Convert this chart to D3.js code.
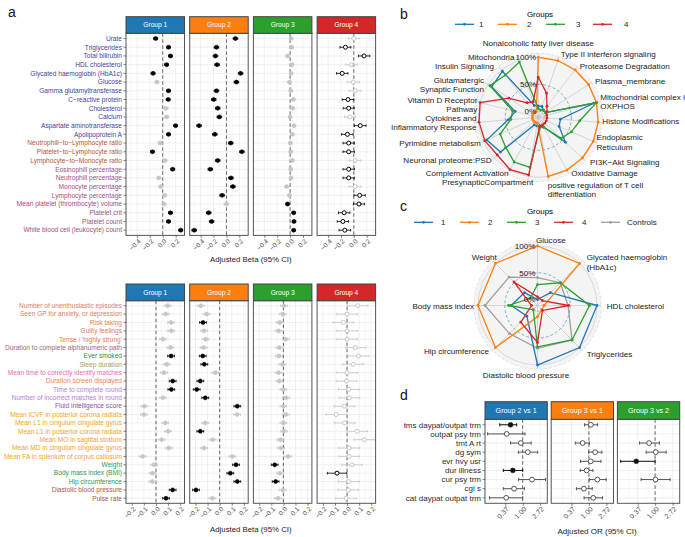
<!DOCTYPE html>
<html><head><meta charset="utf-8">
<script src="https://cdn.jsdelivr.net/npm/d3@7"></script>
<style>body{margin:0;background:#fff}svg text{font-family:'Liberation Sans',Arial,Helvetica,sans-serif}</style>
</head><body><svg id="chart" width="685" height="537"></svg>
<script>
// ---------------- DATA ----------------
const groupNames = ["Group 1","Group 2","Group 3","Group 4"];
const groupColors = ["#1F77B4","#FF7F0E","#2CA02C","#D62728"];

// Panel a (top): blood markers
const bloodRows = ["Urate","Triglycerides","Total bilirubin","HDL cholesterol","Glycated haemoglobin (HbA1c)","Glucose","Gamma glutamyltransferase","C\u2212reactive protein","Cholesterol","Calcium","Aspartate aminotransferase","Apolipoprotein A","Neutrophill\u2212to\u2212Lymphocyte ratio","Platelet\u2212to\u2212Lymphocyte ratio","Lymphocyte\u2212to\u2212Monocyte ratio","Eosinophill percentage","Neutrophill percentage","Monocyte percentage","Lymphocyte percentage","Mean platelet (thrombocyte) volume","Platelet crit","Platelet count","White blood cell (leukocyte) count"];
const bloodCategory = ["Biochemistry","Biochemistry","Biochemistry","Biochemistry","Biochemistry","Biochemistry","Biochemistry","Biochemistry","Biochemistry","Biochemistry","Biochemistry","Biochemistry","Ratios","Ratios","Ratios","Counts","Counts","Counts","Counts","Counts","Counts","Counts","Counts"];
const bloodEstG1 = [-0.11,0.09,0.12,0.06,-0.15,-0.09,0.09,0.085,0.05,0.06,0.2,0.09,-0.04,-0.16,0.035,0.155,-0.06,-0.03,0.03,0.02,0.12,0.09,0.28];
const bloodSigG1 = [1,1,1,1,1,0,1,1,0,0,1,1,0,1,0,1,0,0,0,0,1,1,1];
const bloodCiG1  = [0.03,0.03,0.03,0.03,0.03,0.03,0.03,0.03,0.03,0.03,0.03,0.03,0.03,0.03,0.03,0.03,0.03,0.03,0.03,0.03,0.03,0.03,0.03];
const bloodEstG2 = [0.14,-0.155,-0.17,-0.145,0.22,0.155,-0.155,-0.197,-0.135,-0.11,-0.425,-0.18,0.067,0.24,-0.135,-0.25,0.07,0.1,-0.067,0.0,-0.275,-0.23,-0.5];
const bloodSigG2 = [1,1,1,1,1,1,1,1,1,1,1,1,1,1,1,1,1,1,1,0,1,1,1];
const bloodCiG2  = [0.035,0.035,0.035,0.035,0.035,0.035,0.035,0.035,0.035,0.035,0.035,0.035,0.035,0.035,0.035,0.035,0.035,0.035,0.035,0.035,0.035,0.035,0.035];
const bloodEstG3 = [0.015,0.025,-0.04,0.03,0.015,-0.01,0.01,0.05,0.04,0.0,0.06,0.035,0.005,0.01,0.035,0.01,0.015,-0.055,-0.01,-0.04,0.055,0.06,0.055];
const bloodSigG3 = [0,0,0,0,0,0,0,0,0,0,0,0,0,0,0,0,0,0,0,1,1,1,1];
const bloodCiG3  = [0.025,0.025,0.025,0.025,0.025,0.025,0.025,0.025,0.025,0.025,0.025,0.025,0.025,0.025,0.025,0.025,0.025,0.025,0.025,0.025,0.025,0.025,0.025];
const bloodEstG4 = [0.0,-0.13,0.16,-0.04,-0.18,-0.01,0.02,-0.09,-0.08,-0.06,0.1,-0.1,-0.08,-0.08,0.02,-0.08,-0.08,0.02,0.09,0.08,-0.15,-0.17,-0.14];
const bloodSigG4 = [0,1,1,0,1,0,0,1,1,0,1,1,1,1,0,1,1,0,1,1,1,1,1];
const bloodCiG4  = [0.083,0.085,0.088,0.09,0.088,0.095,0.09,0.09,0.085,0.085,0.09,0.09,0.088,0.088,0.09,0.088,0.088,0.09,0.088,0.086,0.088,0.088,0.09];
const bloodTicks = [-0.4,-0.2,0.0,0.2];

// Panel a (bottom): psychological / cognitive / imaging / physical
const psyRows = ["Number of unenthusiastic episodes","Seen GP for anxiety, or depression","Risk taking","Guilty feelings","Tense / 'highly strung'","Duration to complete alphanumeric path","Ever smoked","Sleep duration","Mean time to correctly identify matches","Duration screen displayed","Time to complete round","Number of incorrect matches in round","Fluid intelligence score","Mean ICVF in posterior corona radiata","Mean L1 in cingulum cingulate gyrus","Mean L1 in posterior corona radiata","Mean MO in sagittal stratum","Mean MD in cingulum cingulate gyrus","Mean FA in splenium of corpus callosum","Weight","Body mass index (BMI)","Hip circumference","Diastolic blood pressure","Pulse rate"];
const psyCategory = ["Mood","Mood","Mood","Mood","Mood","Trail","Smoking","Sleep","Reaction","Screen","Pairs","Pairs","Fluid","Imaging","Imaging","Imaging","Imaging","Imaging","Imaging","Body","Body","Body","Pressure","Pressure"];
const psyEstG1 = [0.097,0.08,0.125,0.127,0.058,0.12,0.125,0.088,0.066,0.138,0.127,0.058,-0.097,-0.1,0.077,0.1,0.047,0.105,-0.11,-0.017,-0.028,-0.03,0.138,0.083];
const psySigG1 = [0,0,0,0,0,0,1,0,0,1,1,0,0,0,0,0,0,0,0,0,0,0,1,1];
const psyCiG1  = [0.028,0.028,0.028,0.028,0.028,0.028,0.028,0.028,0.028,0.028,0.028,0.028,0.028,0.028,0.028,0.028,0.028,0.028,0.028,0.028,0.028,0.028,0.028,0.028];
const psyEstG2 = [-0.157,-0.108,-0.138,-0.13,-0.116,-0.133,-0.14,-0.127,-0.036,-0.16,-0.19,-0.119,0.146,0.144,-0.119,-0.16,-0.058,-0.13,0.105,0.135,0.088,0.146,-0.196,-0.06];
const psySigG2 = [0,0,1,0,0,0,1,1,0,1,1,1,1,0,0,1,0,0,0,1,1,1,1,0];
const psyCiG2  = [0.028,0.028,0.028,0.028,0.028,0.028,0.028,0.028,0.028,0.028,0.028,0.028,0.028,0.028,0.028,0.028,0.028,0.028,0.028,0.028,0.028,0.028,0.028,0.028];
const psyEstG3 = [0.005,-0.005,-0.03,-0.04,0.02,-0.033,-0.036,-0.008,-0.04,-0.033,0.0,0.022,0.0,0.02,0.0,0.005,-0.025,-0.02,0.04,-0.072,-0.028,-0.064,-0.005,-0.044];
const psySigG3 = [0,0,0,0,0,0,0,0,0,0,0,0,0,0,0,0,0,0,0,1,0,1,0,0];
const psyCiG3  = [0.028,0.028,0.028,0.028,0.028,0.028,0.028,0.028,0.028,0.028,0.028,0.028,0.028,0.028,0.028,0.028,0.028,0.028,0.028,0.028,0.028,0.028,0.028,0.028];
const psyEstG4 = [0.088,0.0,-0.03,0.0,0.0,0.07,0.094,0.05,0.0,-0.005,0.014,0.02,-0.022,-0.09,-0.02,0.083,0.144,0.016,0.016,0.04,-0.083,0.014,0.01,-0.008];
const psySigG4 = [0,0,0,0,0,0,0,0,0,0,0,0,0,0,0,0,0,0,0,0,1,0,0,0];
const psyCiG4  = [0.085,0.085,0.085,0.085,0.085,0.085,0.085,0.085,0.085,0.085,0.085,0.085,0.085,0.085,0.085,0.085,0.085,0.085,0.085,0.085,0.08,0.085,0.085,0.085];
const psyTicks = [-0.2,-0.1,0.0,0.1,0.2];

// Panel b: pathway enrichment radar (fraction, 0..1)
const pathways = ["Nonalcoholic fatty liver disease","Type II interferon signaling","Proteasome Degradation","Plasma_membrane","Mitochondrial complex I|OXPHOS","Histone Modifications","Endoplasmic|Reticulum","PI3K\u2212Akt Signaling","Oxidative Damage","positive regulation of T cell|differentiation","PresynapticCompartment","Complement Activation","Neuronal proteome:PSD","Pyrimidine metabolism","Cytokines and|Inflammatory Response","Vitamin D Receptor|Pathway","Glutamatergic|Synaptic Function","Insulin Signaling","Mitochondria"];
const pathG1 = [0.10,0.10,0.05,0.05,0.95,0.30,0.31,0.57,0.10,0.05,0.05,0.05,0.84,0.93,0.45,0.33,0.92,0.97,0.12];
const pathG2 = [1.0,1.0,1.0,1.0,1.0,1.0,1.0,1.0,1.0,1.0,0.0,0.0,0.0,0.0,0.0,0.0,0.0,0.0,0.0];
const pathG3 = [0.05,0.03,0.05,0.05,1.0,0.66,0.56,0.46,0.09,0.08,0.83,0.83,0.71,0.66,0.40,0.38,0.96,0.88,0.97];
const pathG4 = [0.63,0.36,0.15,0.08,0.05,0.05,0.05,0.05,0.05,0.05,0.97,0.99,0.92,0.97,0.99,1.0,0.54,0.23,0.19];

// Panel c: clinical trait radar
const traits = ["Glucose","Glycated haemoglobin|(HbA1c)","HDL cholesterol","Triglycerides","Diastolic blood pressure","Hip circumference","Body mass index","Weight"];
const traitG1 = [0.0,0.23,1.0,1.0,1.0,0.17,0.38,0.23];
const traitG2 = [1.0,1.0,0.01,0.0,0.1,1.0,1.0,1.0];
const traitG3 = [0.28,0.49,0.86,0.8,0.66,0.0,0.43,0.08];
const traitG4 = [0.05,0.02,0.47,0.02,0.58,0.33,0.0,0.51];
const traitCtrl = [0.41,0.49,0.46,0.8,0.69,0.63,0.87,0.64];
const radarLevels = ["0%","50%","100%"];

// Panel d: pairwise odds ratios
const comparisons = ["Group 2 vs 1","Group 3 vs 1","Group 3 vs 2"];
const clinRows = ["tms daypat/outpat trm","outpat psy trm","tmt A rt","dg sym","evr hvy usr","dur illness","cur psy trm","cgi s","cat daypat outpat trm"];
const or21  = [0.50,0.40,0.90,1.34,null,0.57,1.70,0.61,0.39];
const lo21  = [0.27,0.135,0.50,0.78,null,0.33,0.79,0.33,0.15];
const hi21  = [0.71,1.14,1.62,2.36,null,1.0,3.70,1.10,1.0];
const sig21 = [1,0,0,0,0,1,0,0,0];
const or31  = [1.12,null,0.70,1.43,1.11,0.88,1.62,0.75,1.28];
const lo31  = [0.78,null,0.46,0.98,0.62,0.61,1.02,0.49,0.76];
const hi31  = [1.65,null,1.04,2.10,1.99,1.26,2.69,1.21,2.18];
const sig31 = [0,0,0,0,0,0,0,0,0];
const or32  = [null,null,0.71,1.04,0.34,null,1.02,null,null];
const lo32  = [null,null,0.41,0.60,0.14,null,0.45,null,null];
const hi32  = [null,null,1.28,1.88,1.0,null,2.36,null,null];
const sig32 = [0,0,0,0,1,0,0,0,0];
const orTicks = [0.37,1.00,2.72];

// ---------------- STYLE / LAYOUT ----------------
const catColor = {Biochemistry:"#3F3F9C",Ratios:"#B5533C",Counts:"#A24F7C",Mood:"#DD7B62",Trail:"#9A6A70",Smoking:"#2E8B50",Sleep:"#A59D5A",Reaction:"#E470AE",Screen:"#EC8452",Pairs:"#B482D6",Fluid:"#8A4DB6",Imaging:"#F4A428",Body:"#25985E",Pressure:"#A4574A"};
const compColors = ["#1F77B4","#FF7F0E","#2CA02C"];
const ctrlColor = "#9E9E9E";
const svg = d3.select("#chart");

function forest(o){
  const y = d3.scalePoint().domain(o.rows).range([o.bodyTop,o.bodyBot]).padding(0.6);
  o.panels.forEach((p,i)=>{
    const px = o.x0 + i*(o.w+o.gap);
    const x = (o.log ? d3.scaleLog().base(Math.E) : d3.scaleLinear()).domain(o.domain).range([px,px+o.w]);
    const g = svg.append("g");
    g.append("rect").attr("x",px).attr("y",o.bodyTop).attr("width",o.w).attr("height",o.bodyBot-o.bodyTop).attr("fill","#fff");
    o.minor.forEach(v=>g.append("line").attr("x1",x(v)).attr("x2",x(v)).attr("y1",o.bodyTop).attr("y2",o.bodyBot).attr("stroke","#F3F3F3").attr("stroke-width",0.5));
    o.ticks.forEach(v=>g.append("line").attr("x1",x(v)).attr("x2",x(v)).attr("y1",o.bodyTop).attr("y2",o.bodyBot).attr("stroke","#E6E6E6").attr("stroke-width",0.6));
    o.rows.forEach(r=>g.append("line").attr("x1",px).attr("x2",px+o.w).attr("y1",y(r)).attr("y2",y(r)).attr("stroke","#E6E6E6").attr("stroke-width",0.6));
    g.append("line").attr("x1",x(o.ref)).attr("x2",x(o.ref)).attr("y1",o.bodyTop).attr("y2",o.bodyBot).attr("stroke","#555").attr("stroke-width",0.9).attr("stroke-dasharray","3.5,2.5");
    o.rows.forEach((r,j)=>{
      const e = p.est[j]; if(e==null) return;
      const lo = p.lo ? p.lo[j] : e - p.ci[j];
      const hi = p.hi ? p.hi[j] : e + p.ci[j];
      const col = p.sig[j] ? o.sigColor : o.nsColor;
      const yy = y(r);
      g.append("line").attr("x1",x(lo)).attr("x2",x(hi)).attr("y1",yy).attr("y2",yy).attr("stroke",col).attr("stroke-width",o.barW);
      [lo,hi].forEach(v=>g.append("line").attr("x1",x(v)).attr("x2",x(v)).attr("y1",yy-o.cap).attr("y2",yy+o.cap).attr("stroke",col).attr("stroke-width",o.barW));
      const open = p.open && !(o.fillSig && p.sig[j]);
      g.append("circle").attr("cx",x(e)).attr("cy",yy).attr("r",o.pr)
        .attr("fill", open ? "#fff" : col).attr("stroke",col).attr("stroke-width",open?1:0.6);
    });
    g.append("rect").attr("x",px).attr("y",o.bodyTop).attr("width",o.w).attr("height",o.bodyBot-o.bodyTop).attr("fill","none").attr("stroke","#555").attr("stroke-width",1);
    g.append("rect").attr("x",px).attr("y",o.stripTop).attr("width",o.w).attr("height",o.bodyTop-o.stripTop).attr("fill",p.color).attr("stroke","#444").attr("stroke-width",1);
    g.append("text").attr("x",px+o.w/2).attr("y",(o.stripTop+o.bodyTop)/2).attr("dy","0.36em").attr("text-anchor","middle").attr("fill","#fff").attr("font-size",o.stripFont).text(p.name);
    const ax = d3.axisBottom(x).tickValues(o.ticks).tickSize(2.5).tickFormat(o.fmt);
    const axg = g.append("g").attr("transform",`translate(0,${o.bodyBot})`).call(ax);
    axg.select(".domain").remove();
    axg.selectAll(".tick line").attr("stroke","#333").attr("stroke-width",0.6);
    axg.selectAll(".tick text").attr("x",null).attr("y",null).attr("dy",null)
      .attr("transform","translate(2.5,5) rotate(-45)").attr("text-anchor","end").attr("dominant-baseline","middle")
      .attr("fill","#4D4D4D").attr("font-size",o.tickFont).attr("font-family",null);
    if(i===0){
      o.rows.forEach((r,j)=>{
        g.append("line").attr("x1",px-2.5).attr("x2",px).attr("y1",y(r)).attr("y2",y(r)).attr("stroke","#333").attr("stroke-width",0.6);
        g.append("text").attr("x",px-4).attr("y",y(r)).attr("dy","0.35em").attr("text-anchor","end")
          .attr("font-size",o.labFont).attr("fill",o.labColor ? o.labColor(j) : "#2B2B2B").text(r);
      });
    }
  });
  const last = o.x0 + (o.panels.length)*(o.w+o.gap) - o.gap;
  svg.append("text").attr("x",o.titleX!=null?o.titleX:(o.x0+last)/2).attr("y",o.titleY).attr("text-anchor","middle").attr("font-size",o.titleFont).attr("fill","#222").text(o.title);
}

const fmtBeta = d3.format(".1f");
const fmtM = v => fmtBeta(v).replace("-","\u2212");

forest({rows:bloodRows, x0:126, w:58.5, gap:5.2, stripTop:16.7, bodyTop:33.3, bodyBot:235.4, domain:[-0.57,0.338], ticks:bloodTicks, minor:[-0.5,-0.3,-0.1,0.1,0.3], ref:0, fmt:fmtM,
  panels:[
    {name:groupNames[0],color:groupColors[0],est:bloodEstG1,ci:bloodCiG1,sig:bloodSigG1},
    {name:groupNames[1],color:groupColors[1],est:bloodEstG2,ci:bloodCiG2,sig:bloodSigG2},
    {name:groupNames[2],color:groupColors[2],est:bloodEstG3,ci:bloodCiG3,sig:bloodSigG3},
    {name:groupNames[3],color:groupColors[3],est:bloodEstG4,ci:bloodCiG4,sig:bloodSigG4,open:true}],
  sigColor:"#000", nsColor:"#C6C6C6", barW:0.8, cap:1.3, pr:2, stripFont:6.6, tickFont:6.5, labFont:6.6, labColor:j=>catColor[bloodCategory[j]],
  title:"Adjusted Beta (95% CI)", titleY:262, titleFont:7.8});

forest({rows:psyRows, x0:126, w:58.5, gap:5.2, stripTop:284, bodyTop:300.7, bodyBot:503.3, domain:[-0.248,0.236], ticks:psyTicks, minor:[-0.15,-0.05,0.05,0.15], ref:0, fmt:fmtM,
  panels:[
    {name:groupNames[0],color:groupColors[0],est:psyEstG1,ci:psyCiG1,sig:psySigG1},
    {name:groupNames[1],color:groupColors[1],est:psyEstG2,ci:psyCiG2,sig:psySigG2},
    {name:groupNames[2],color:groupColors[2],est:psyEstG3,ci:psyCiG3,sig:psySigG3},
    {name:groupNames[3],color:groupColors[3],est:psyEstG4,ci:psyCiG4,sig:psySigG4,open:true}],
  sigColor:"#000", nsColor:"#C6C6C6", barW:0.8, cap:1.3, pr:2, stripFont:6.6, tickFont:6.5, labFont:6.6, labColor:j=>catColor[psyCategory[j]],
  title:"Adjusted Beta (95% CI)", titleY:532, titleFont:7.8});

forest({rows:clinRows, x0:485, w:62.3, gap:3.9, stripTop:401.7, bodyTop:419.3, bodyBot:503.3, log:true, domain:[Math.exp(-2.154),Math.exp(1.406)], ticks:orTicks, minor:[Math.exp(-1.5),Math.exp(-0.5),Math.exp(0.5)], ref:1, fmt:d3.format(".2f"),
  panels:[
    {name:comparisons[0],color:compColors[0],est:or21,lo:lo21,hi:hi21,sig:sig21,open:true},
    {name:comparisons[1],color:compColors[1],est:or31,lo:lo31,hi:hi31,sig:sig31,open:true},
    {name:comparisons[2],color:compColors[2],est:or32,lo:lo32,hi:hi32,sig:sig32,open:true}],
  sigColor:"#111", nsColor:"#555", fillSig:true, barW:1, cap:1.6, pr:2.4, stripFont:7.2, tickFont:7, labFont:8, labColor:null,
  title:"Adjusted OR (95% CI)", titleX:597, titleY:534, titleFont:8});

// ---------------- RADAR ----------------
function radar(o){
  const n = o.axes.length;
  const r = d3.scaleLinear().domain([0,1]).range([o.R*0.1,o.R]);
  const ang = i => i*2*Math.PI/n;
  const pt = (i,v) => [o.cx + r(v)*Math.sin(ang(i)), o.cy - r(v)*Math.cos(ang(i))];
  const g = svg.append("g");
  g.append("circle").attr("cx",o.cx).attr("cy",o.cy).attr("r",o.R*1.07).attr("fill","#F4F4F4").attr("stroke","#D5D5D5").attr("stroke-width",0.7).attr("stroke-dasharray","3,2");
  o.axes.forEach((a,i)=>g.append("line").attr("x1",o.cx).attr("y1",o.cy).attr("x2",o.cx+o.R*1.07*Math.sin(ang(i))).attr("y2",o.cy-o.R*1.07*Math.cos(ang(i))).attr("stroke","#BDBDBD").attr("stroke-width",0.6));
  g.append("circle").attr("cx",o.cx).attr("cy",o.cy).attr("r",r(1)).attr("fill","none").attr("stroke","#C4C4C4").attr("stroke-width",0.6);
  g.append("circle").attr("cx",o.cx).attr("cy",o.cy).attr("r",r(0.5)).attr("fill","none").attr("stroke","#3E9BB0").attr("stroke-width",0.7).attr("stroke-dasharray","3,2");
  g.append("circle").attr("cx",o.cx).attr("cy",o.cy).attr("r",r(0)).attr("fill","none").attr("stroke","#888").attr("stroke-width",0.6).attr("stroke-dasharray","2,1.5");
  const line = d3.line().curve(d3.curveLinearClosed);
  o.series.forEach(s=>{
    const pts = s.values.map((v,i)=>pt(i,v));
    g.append("path").attr("d",line(pts)).attr("fill","none").attr("stroke",s.color).attr("stroke-width",1.3);
    pts.forEach(p=>g.append("circle").attr("cx",p[0]).attr("cy",p[1]).attr("r",1.4).attr("fill",s.color));
  });
  [0,0.5,1].forEach((v,k)=>g.append("text").attr("x",o.cx-2).attr("y",o.cy-r(v)).attr("dy","0.35em").attr("text-anchor","end").attr("font-size",o.font).attr("fill","#222").text(radarLevels[k]));
  o.axes.forEach((a,i)=>{
    const s = Math.sin(ang(i)), c = Math.cos(ang(i));
    const nd = o.nudge[i];
    const lx = o.cx + o.R*1.15*s + nd[0], ly = o.cy - o.R*1.15*c + nd[1];
    const anchor = nd[2] || (s > 0.01 ? "start" : (s < -0.01 ? "end" : "middle"));
    const lines = a.split("|");
    const t = g.append("text").attr("text-anchor",anchor).attr("font-size",o.font).attr("fill","#1A1A1A");
    lines.forEach((l,k)=>t.append("tspan").attr("x",lx).attr("y",ly + (k-(lines.length-1)/2)*o.font*1.15).attr("dy","0.35em").text(l));
  });
}
function legend(x0,y,items,cols,labelX){
  const g = svg.append("g");
  items.forEach((t,i)=>{
    g.append("line").attr("x1",x0[i]).attr("x2",x0[i]+19).attr("y1",y).attr("y2",y).attr("stroke",cols[i]).attr("stroke-width",1.3);
    g.append("circle").attr("cx",x0[i]+9.5).attr("cy",y).attr("r",1.4).attr("fill",cols[i]);
    g.append("text").attr("x",labelX[i]).attr("y",y).attr("dy","0.35em").attr("font-size",8).attr("fill","#1A1A1A").text(t);
  });
}

// per-axis label nudges [dx, dy, anchor]
const nudgeB = [[0,-5],[0,2],[-1,3.5],[-1,1.5],[-5,1],[-4.7,-2],[-5,-3],[1,-1.5],[0,-4.5],[-2,4],[6.4,-3],[3,-4.7],[4,-4],[5.6,-1.7],[7,-0.5],[6,4],[3.6,5],[-2,3.8],[-1.5,4.7]];
const nudgeC = [[-1.5,3,"start"],[0.8,5],[0.8,0.5],[0.8,0.4],[-11.5,1],[0,-3],[5,0.5],[7.6,0.2]];

radar({cx:538.3, cy:117.3, R:60, axes:pathways, font:8.1, nudge:nudgeB,
  series:[{values:pathG1,color:groupColors[0]},{values:pathG2,color:groupColors[1]},{values:pathG3,color:groupColors[2]},{values:pathG4,color:groupColors[3]}]});
radar({cx:537.5, cy:305.5, R:59.5, axes:traits, font:8.1, nudge:nudgeC,
  series:[{values:traitCtrl,color:ctrlColor},{values:traitG1,color:groupColors[0]},{values:traitG2,color:groupColors[1]},{values:traitG3,color:groupColors[2]},{values:traitG4,color:groupColors[3]}]});

svg.append("text").attr("x",540).attr("y",14).attr("dy","0.35em").attr("text-anchor","middle").attr("font-size",8).text("Groups");
legend([455,498,546,593],24.3,["1","2","3","4"],groupColors,[479,527,576,624]);
svg.append("text").attr("x",540).attr("y",211).attr("dy","0.35em").attr("text-anchor","middle").attr("font-size",8).text("Groups");
legend([414,460,507,554,601],222.3,["1","2","3","4","Controls"],groupColors.concat([ctrlColor]),[441,488,535,582,627]);

[["a",8,12],["b",400,14],["c",400,206],["d",400,395]].forEach(d=>svg.append("text").attr("x",d[1]).attr("y",d[2]).attr("dy","0.35em").attr("font-size",14).attr("fill","#111").text(d[0]));
</script>
</body></html>
